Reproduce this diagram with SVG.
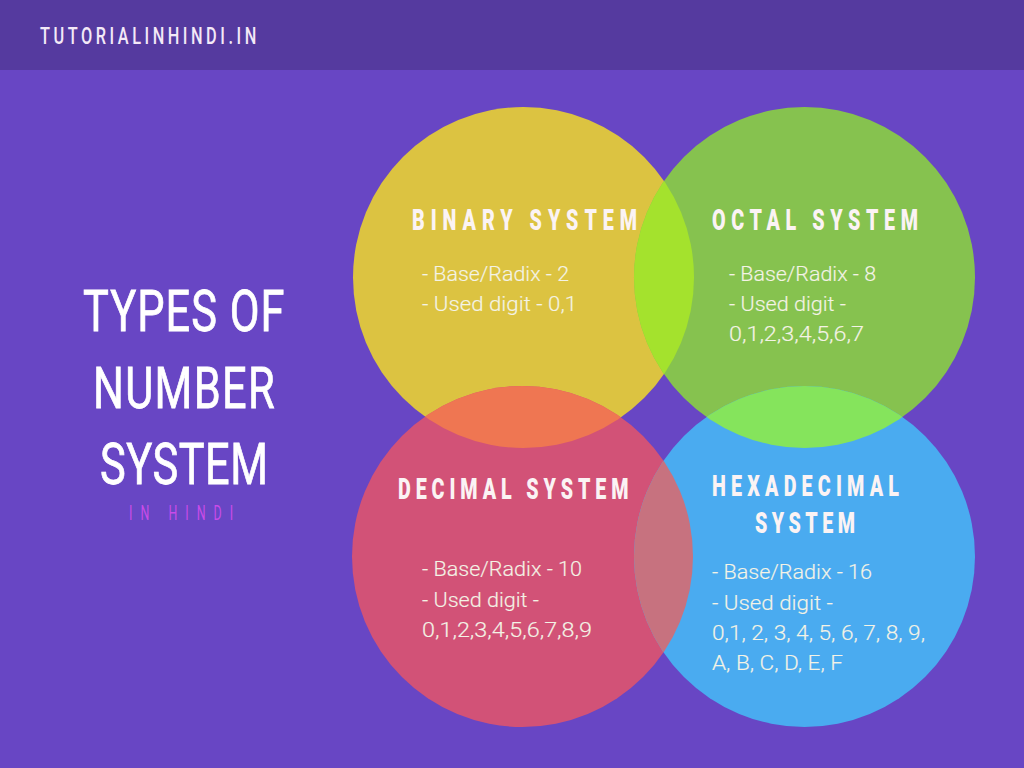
<svg xmlns="http://www.w3.org/2000/svg" width="1024" height="768" viewBox="0 0 1024 768">
<style>
.o{font-family:"Roboto","Liberation Sans",sans-serif;fill:#fff}
.h{font-size:29px;font-weight:900;fill:#fbf3f4}
.b{font-family:"Roboto","Open Sans",sans-serif;font-size:21px;font-weight:300;fill:#f4f3e6;stroke:#f4f3e6;stroke-width:.15}
.t{font-size:57px;font-weight:400;stroke:#fff;stroke-width:.8}
</style>
<defs>
<clipPath id="cy"><circle cx="523.5" cy="277.5" r="170.5"/></clipPath>
<clipPath id="cg"><circle cx="804.5" cy="277.5" r="170.5"/></clipPath>
<clipPath id="cr"><circle cx="522.5" cy="556.5" r="170.5"/></clipPath>
</defs>
<rect width="1024" height="768" fill="#6846c4"/>
<g id="header"><rect width="1024" height="70" fill="#553a9f"/>
<text class="o" transform="translate(40 44) scale(.68 1)" font-size="24" font-weight="500" style="fill:#f3e9f7" textLength="318" lengthAdjust="spacing">TUTORIALINHINDI.IN</text></g>
<g id="title">
<text class="o t" transform="translate(83 331) scale(.76 1)" textLength="265" lengthAdjust="spacing">TYPES OF</text>
<text class="o t" transform="translate(93 408) scale(.76 1)" textLength="239" lengthAdjust="spacing">NUMBER</text>
<text class="o t" transform="translate(100 484) scale(.76 1)" textLength="221" lengthAdjust="spacing">SYSTEM</text>
<text class="o" transform="translate(129 520) scale(.62 1)" font-size="20" style="fill:#c94be8" textLength="168" lengthAdjust="spacing">IN HINDI</text>
</g>
<g id="connectors"/>
<g id="binary">
<circle cx="523.5" cy="277.5" r="170.5" fill="#dcc341"/>
</g>
<g id="octal">
<circle cx="804.5" cy="277.5" r="170.5" fill="#86c24f"/>
</g>
<g id="decimal">
<circle cx="522.5" cy="556.5" r="170.5" fill="#d25277"/>
</g>
<g id="hexadecimal">
<circle cx="804.5" cy="556.5" r="170.5" fill="#4aabf0"/>
</g>
<g id="overlaps">
<circle cx="804.5" cy="277.5" r="170.5" fill="#a4e22d" clip-path="url(#cy)"/>
<circle cx="522.5" cy="556.5" r="170.5" fill="#ef7652" clip-path="url(#cy)"/>
<circle cx="804.5" cy="556.5" r="170.5" fill="#85e45c" clip-path="url(#cg)"/>
<circle cx="804.5" cy="556.5" r="170.5" fill="#c7727f" clip-path="url(#cr)"/>
</g>
<g id="binary-text">
<text class="o h" transform="translate(412 230) scale(.68 1)" textLength="331" lengthAdjust="spacing">BINARY SYSTEM</text>
<text class="b" x="422" y="281" textLength="147" lengthAdjust="spacingAndGlyphs">- Base/Radix - 2</text>
<text class="b" x="422" y="311" textLength="155" lengthAdjust="spacingAndGlyphs">- Used digit - 0,1</text>
</g>
<g id="octal-text">
<text class="o h" transform="translate(712 230) scale(.68 1)" textLength="303" lengthAdjust="spacing">OCTAL SYSTEM</text>
<text class="b" x="729" y="281" textLength="147" lengthAdjust="spacingAndGlyphs">- Base/Radix - 8</text>
<text class="b" x="729" y="311" textLength="117" lengthAdjust="spacingAndGlyphs">- Used digit -</text>
<text class="b" x="729" y="341" textLength="135" lengthAdjust="spacingAndGlyphs">0,1,2,3,4,5,6,7</text>
</g>
<g id="decimal-text">
<text class="o h" transform="translate(398 499) scale(.68 1)" textLength="339" lengthAdjust="spacing">DECIMAL SYSTEM</text>
<text class="b" x="422" y="576" textLength="160" lengthAdjust="spacingAndGlyphs">- Base/Radix - 10</text>
<text class="b" x="422" y="607" textLength="117" lengthAdjust="spacingAndGlyphs">- Used digit -</text>
<text class="b" x="422" y="637" textLength="170" lengthAdjust="spacingAndGlyphs">0,1,2,3,4,5,6,7,8,9</text>
</g>
<g id="hexadecimal-text">
<text class="o h" transform="translate(712 496) scale(.68 1)" textLength="275" lengthAdjust="spacing">HEXADECIMAL</text>
<text class="o h" transform="translate(755 533) scale(.68 1)" textLength="147" lengthAdjust="spacing">SYSTEM</text>
<text class="b" x="712" y="579" textLength="160" lengthAdjust="spacingAndGlyphs">- Base/Radix - 16</text>
<text class="b" x="712" y="610" textLength="121" lengthAdjust="spacingAndGlyphs">- Used digit -</text>
<text class="b" x="712" y="640" textLength="213" lengthAdjust="spacingAndGlyphs">0,1, 2, 3, 4, 5, 6, 7, 8, 9,</text>
<text class="b" x="712" y="670" textLength="131" lengthAdjust="spacingAndGlyphs">A, B, C, D, E, F</text>
</g>
</svg>
